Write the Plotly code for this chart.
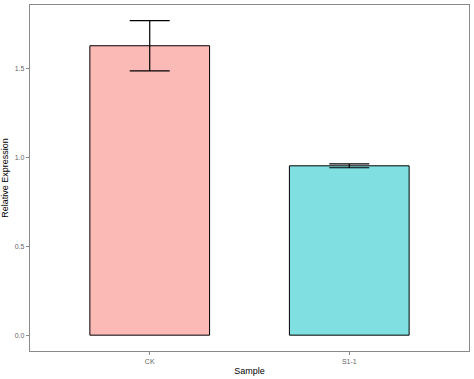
import plotly.graph_objects as go

samples = ["CK", "S1-1"]
means = [1.627, 0.952]
errors = [0.141, 0.011]
fill_colors = ["rgba(248,118,109,0.5)", "rgba(0,191,196,0.5)"]

fig = go.Figure()
fig.add_trace(go.Bar(
    x=samples, y=means,
    marker=dict(color=fill_colors, line=dict(color="black", width=1)),
    width=0.6,
    error_y=dict(type="data", array=errors, color="black", thickness=1.2, width=20),
    showlegend=False,
))

axis_common = dict(showline=True, linecolor="#8a8a8a", linewidth=1.3, mirror=True,
                   ticks="outside", ticklen=3, tickcolor="#8a8a8a",
                   tickfont=dict(family="Liberation Sans, Arial", size=7, color="#666666"),
                   showgrid=False, zeroline=False)

fig.update_layout(
    width=474, height=379,
    margin=dict(l=27, r=5, t=4, b=25),
    paper_bgcolor="white", plot_bgcolor="white",
    xaxis=dict(range=[-0.6, 1.6], title=dict(text="Sample", font=dict(family="Liberation Sans, Arial", size=9, color="black"), standoff=4), **axis_common),
    yaxis=dict(range=[-0.089, 1.856], tickvals=[0, 0.5, 1.0, 1.5], ticktext=["0.0", "0.5", "1.0", "1.5"],
               title=dict(text="Relative Expression", font=dict(family="Liberation Sans, Arial", size=9, color="black"), standoff=4), **axis_common),
)

fig.write_html("out.html")
